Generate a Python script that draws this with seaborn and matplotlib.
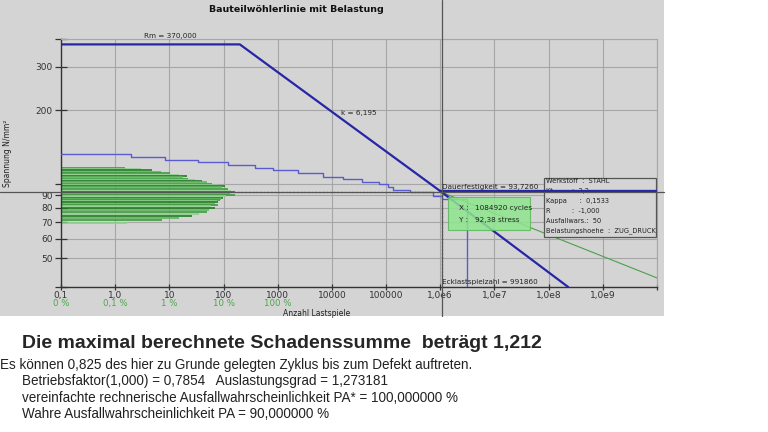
import matplotlib
matplotlib.use("Agg")
import matplotlib.pyplot as plt
from matplotlib.patches import Rectangle
import seaborn as sns
import pandas as pd

# Bauteilwöhlerlinie
woehler_n = [0.1, 200, 991860, 1e10]
woehler_s = [370, 370, 93.726, 93.726]
# Verlängerung der Zeitfestigkeitsgeraden
ext_n = [991860, 2.3e8]
ext_s = [93.726, 38.1]

# Schadenslinie (Treppe)
step_n = [0.1, 2.0, 8.3, 34, 120, 380, 810, 2360, 6800, 16000, 35500,
          73600, 107000, 133000, 275000, 730000, 1.1e6, 3.1e6, 3.1e6]
step_s = [132, 128.8, 125.8, 122.4, 119.5, 116.7, 114.5, 110.8, 107.3, 104.8, 102.4,
          100, 97.7, 95.0, 92.6, 89.7, 86.8, 86.8, 30]

# Lastkollektiv (Spannung, Lastspiele)
kollektiv_s = [116.7, 115.3, 114.0, 112.4, 110.8, 109.3, 107.8, 106.5, 105.3, 104.0,
               102.8, 101.6, 100.5, 99.3, 98.2, 97.0, 95.7, 94.0, 92.5, 91.2,
               90.2, 89.0, 88.0, 87.0, 86.1, 85.2, 84.3, 83.2, 82.2, 81.1,
               80.1, 78.6, 77.1, 75.7, 74.3, 72.8, 71.4, 69.7]
kollektiv_n = [1.5, 3.0, 4.8, 7.0, 10.3, 15, 21, 18, 22, 30,
               40, 50, 61, 80, 106, 95, 120, 140, 160, 130,
               162, 110, 97, 90, 86, 75, 79, 70, 79, 60,
               69, 55, 49, 35, 26, 15, 7.3, 1.65]

# Cursor / Ausfalllinie
cursor_n = 1084920
cursor_s = 92.38
miner_n = [1084920, 1e10]
miner_s = [92.38, 41.5]

xticks = [0.1, 1, 10, 100, 1000, 1e4, 1e5, 1e6, 1e7, 1e8, 1e9, 1e10]
xtick_labels = ["0,1", "1,0", "10", "100", "1000", "10000", "100000",
                "1,0e6", "1,0e7", "1,0e8", "1,0e9", ""]
pct_labels = ["0 %", "0,1 %", "1 %", "10 %", "100 %"]
yticks = [38.1, 50, 60, 70, 80, 90, 100, 200, 300, 389]
ytick_labels = ["", "50", "60", "70", "80", "90", "", "200", "300", ""]

info_lines = ["Werkstoff  :  STAHL", "Kt         :  2,2", "Kappa      :  0,1533",
              "R          :  -1,000", "Ausfallwars.:  50", "Belastungshoehe  :  ZUG_DRUCK"]

summary_title = "Die maximal berechnete Schadenssumme  beträgt 1,212"
summary_first = "Es können 0,825 des hier zu Grunde gelegten Zyklus bis zum Defekt auftreten."
summary_lines = [
    "Betriebsfaktor(1,000) = 0,7854   Auslastungsgrad = 1,273181",
    "vereinfachte rechnerische Ausfallwahrscheinlichkeit PA* = 100,000000 %",
    "Wahre Ausfallwahrscheinlichkeit PA = 90,000000 %",
]

GRAY = "#d4d4d4"
GRID = "#a6a6a6"
DARKBLUE = "#2626a6"
STEPBLUE = "#5a5ad2"
greens = ["#3d9b3d", "#8ccf8c", "#1f7a1f", "#5fb35f"]

sns.set_style("ticks")
plt.rcParams["font.family"] = ["DejaVu Sans"]

fig = plt.figure(figsize=(7.68, 4.32), dpi=100, facecolor="white")
fig.add_artist(Rectangle((0, 0.2685), 0.8646, 0.7315, transform=fig.transFigure,
                         facecolor=GRAY, edgecolor="none", zorder=-5))
ax = fig.add_axes([0.0794, 0.3356, 0.776, 0.574])
ax.set_facecolor(GRAY)
ax.set_xscale("log")
ax.set_yscale("log")

# Lastkollektiv
for i, (s, n) in enumerate(zip(kollektiv_s, kollektiv_n)):
    ax.hlines(s, 0.1, n, color=greens[i % 4], lw=1.2, zorder=2)

df_step = pd.DataFrame({"n": step_n, "s": step_s})
sns.lineplot(data=df_step, x="n", y="s", ax=ax, estimator=None, sort=False,
             drawstyle="steps-post", color=STEPBLUE, lw=1.0, zorder=3)

# Cursor-Hilfslinien (rot gepunktet)
ax.hlines(cursor_s, 0.1, cursor_n, color="#d05050", lw=1.0, ls=":", zorder=4)
ax.vlines(cursor_n, 30, cursor_s, color="#d05050", lw=1.0, ls=":", zorder=4)

df_miner = pd.DataFrame({"n": miner_n, "s": miner_s})
sns.lineplot(data=df_miner, x="n", y="s", ax=ax, estimator=None, sort=False,
             color="#4c9f4c", lw=0.8, zorder=3)

df_w = pd.DataFrame({"n": woehler_n, "s": woehler_s})
sns.lineplot(data=df_w, x="n", y="s", ax=ax, estimator=None, sort=False,
             color=DARKBLUE, lw=1.6, zorder=5)
df_ext = pd.DataFrame({"n": ext_n, "s": ext_s})
sns.lineplot(data=df_ext, x="n", y="s", ax=ax, estimator=None, sort=False,
             color=DARKBLUE, lw=1.6, zorder=5)

ax.set_xlim(0.1, 1e10)
ax.set_ylim(38.1, 389)
ax.set_xticks(xticks)
ax.set_xticklabels(xtick_labels)
ax.set_yticks(yticks)
ax.set_yticklabels(ytick_labels)
ax.minorticks_off()
ax.grid(True, color=GRID, lw=0.8, zorder=0)
ax.set_axisbelow(True)
ax.tick_params(axis="both", labelsize=6.5, colors="#333333", direction="inout",
               width=0.9, length=8, pad=2)
ax.tick_params(axis="x", length=4, pad=1)
for side in ["top", "right"]:
    ax.spines[side].set_color(GRID)
    ax.spines[side].set_linewidth(0.8)
for side in ["left", "bottom"]:
    ax.spines[side].set_color("#333333")
    ax.spines[side].set_linewidth(1.0)

ax.set_xlabel("Anzahl Lastspiele", fontsize=5.5, color="#222222")
ax.xaxis.set_label_coords(0.4295, -0.087)
ax.set_ylabel("Spannung N/mm²", fontsize=5.5, color="#222222")
ax.yaxis.set_label_coords(-0.083, 0.54)

# Prozentangaben unter der x-Achse
for xv, lab in zip(xticks, pct_labels):
    ax.text(xv, -0.068, lab, transform=ax.get_xaxis_transform(), ha="center",
            va="center", fontsize=6.2, color="#48a848")

# Beschriftungen an der Wöhlerlinie
ax.text(10.5, 402, "Rm = 370,000", fontsize=5.2, color="#222222", ha="center", va="center")
ax.text(15000, 195, "k = 6,195", fontsize=5.2, color="#222222", ha="left", va="center")
ax.text(1.1e6, 97.3, "Dauerfestigkeit = 93,7260", fontsize=5.2, color="#222222",
        ha="left", va="center", zorder=6)
ax.text(1.1e6, 40, "Ecklastspielzahl = 991860", fontsize=5.2, color="#222222",
        ha="left", va="center", zorder=6)

# Infobox Werkstoff
ax.add_patch(Rectangle((0.810, 0.2016), 0.188, 0.238, transform=ax.transAxes,
                       facecolor=GRAY, edgecolor="#555555", lw=0.9, zorder=4.5,
                       clip_on=False))
for i, line in enumerate(info_lines):
    ax.text(0.814, 0.427 - i * 0.0402, line, transform=ax.transAxes, fontsize=4.8,
            color="#222222", va="center", ha="left", zorder=4.6)

# Tooltip
ax.add_patch(Rectangle((0.649, 0.230), 0.138, 0.133, transform=ax.transAxes,
                       facecolor="#8ee68e", edgecolor="#5cb85c", lw=0.8, alpha=0.85,
                       zorder=6))
ax.text(0.668, 0.319, "X :", transform=ax.transAxes, fontsize=5.2, color="#222222",
        va="center", zorder=7)
ax.text(0.695, 0.319, f"{cursor_n} cycles", transform=ax.transAxes, fontsize=5.2,
        color="#222222", va="center", zorder=7)
ax.text(0.668, 0.270, "Y :", transform=ax.transAxes, fontsize=5.2, color="#222222",
        va="center", zorder=7)
ax.text(0.695, 0.270, "92,38 stress", transform=ax.transAxes, fontsize=5.2,
        color="#222222", va="center", zorder=7)

# Fadenkreuz
ax.axvline(cursor_n, ymin=-0.117, ymax=1.157, color="#555555", lw=0.9, clip_on=False, zorder=8)
ax.axhline(cursor_s, xmin=-0.102, xmax=1.012, color="#555555", lw=0.9, clip_on=False, zorder=8)

fig.text(296 / 768, 1 - 9 / 432, "Bauteilwöhlerlinie mit Belastung", ha="center",
         va="center", fontsize=6.8, fontweight="bold", color="#111111")

# Zusammenfassung unter dem Diagramm
fig.text(22 / 768, 1 - 344 / 432, summary_title, ha="left", va="center",
         fontsize=14, fontweight="bold", family=["Liberation Sans", "DejaVu Sans"])
fig.text(0, 1 - 365 / 432, summary_first, ha="left", va="center",
         fontsize=9.75, color="#222222", family=["Liberation Sans", "DejaVu Sans"])
for i, line in enumerate(summary_lines):
    fig.text(22 / 768, 1 - (381.5 + i * 16.5) / 432, line, ha="left", va="center",
             fontsize=9.75, color="#222222", family=["Liberation Sans", "DejaVu Sans"])

fig.savefig("out.png", dpi=100, facecolor="white")
